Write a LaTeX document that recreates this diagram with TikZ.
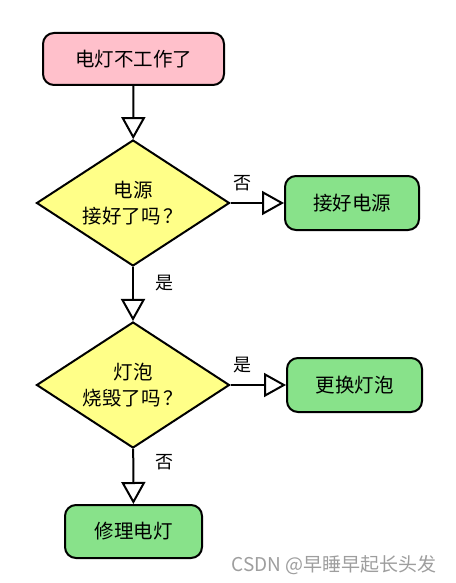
\documentclass[tikz,border=0pt]{standalone}
\usepackage{fontspec}
\setmainfont{Noto Sans CJK SC}
\usepackage{tikz}
\usetikzlibrary{shapes.geometric,arrows.meta}

\definecolor{startpink}{RGB}{255,192,203}
\definecolor{askyellow}{RGB}{255,255,136}
\definecolor{dogreen}{RGB}{136,226,138}

\tikzset{
    box/.style={draw, line width=2pt, rounded corners=11pt, font=\fontsize{19.5}{23}\selectfont},
    ask/.style={draw, line width=2pt, shape=diamond, aspect=1.53, fill=askyellow, minimum width=193pt, minimum height=126pt, inner sep=0pt, align=center, font=\fontsize{19.5}{26}\selectfont},
    flow/.style={line width=2pt, -{Triangle[open, length=22pt, width=24pt, line width=2pt]}},
    word/.style={font=\fontsize{18}{20}\selectfont}
}

\begin{document}
\begin{tikzpicture}[x=1pt, y=-1pt]
        \fill[white] (0, 0) rectangle (455, 583);
        \node[box, fill=startpink, minimum width=181pt, minimum height=52pt] (start) at (133.5, 59) {电灯不工作了};
        \node[ask] (power) at (133, 203) {电源\\接好了吗\,？};
        \node[box, fill=dogreen, minimum width=134pt, minimum height=54pt] (plug) at (352, 203) {接好电源};
        \node[ask] (bulb) at (133, 385) {灯泡\\烧毁了吗\,？};
        \node[box, fill=dogreen, minimum width=135pt, minimum height=54pt] (swap) at (354.5, 385) {更换灯泡};
        \node[box, fill=dogreen, minimum width=137pt, minimum height=53pt] (fix) at (133.5, 531.5) {修理电灯};
        \draw[flow] (start) to (power);
        \draw[flow] (power) to node[word, above=8pt, pos=0.22] {否} (plug);
        \draw[flow] (power) to node[word, right=18pt, pos=0.3] {是} (bulb);
        \draw[flow] (bulb) to node[word, above=8pt, pos=0.22] {是} (swap);
        \draw[flow] (bulb) to node[word, right=18pt, pos=0.24] {否} (fix);
        \node[text=black!38, font=\fontsize{19}{22}\selectfont] (mark) at (334, 565) {CSDN @早睡早起长头发};
    \end{tikzpicture}
\end{document}
